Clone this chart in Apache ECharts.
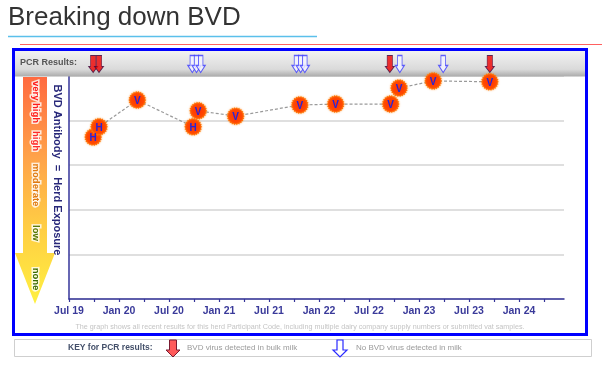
<!DOCTYPE html>
<html>
<head>
<meta charset="utf-8">
<script src="https://cdn.jsdelivr.net/npm/echarts@6/dist/echarts.min.js"></script>
<style>
html,body{margin:0;padding:0;background:#fff;}
#c{width:602px;height:366px;}
</style>
</head>
<body>
<div id="c"></div>
<script>
// ---- data ----
const tickLabels = ['Jul 19','Jan 20','Jul 20','Jan 21','Jul 21','Jan 22','Jul 22','Jan 23','Jul 23','Jan 24'];
// months since Jul 2019
const sampleMonths = [2.9, 3.6, 8.2, 14.9, 15.5, 20.0, 27.7, 32.0, 38.6, 39.6, 43.7, 50.5];
const antibodyLevel = [3.63, 3.86, 4.46, 3.86, 4.22, 4.10, 4.35, 4.37, 4.37, 4.73, 4.89, 4.87];
const sampleCodes = ['H','H','V','H','V','V','V','V','V','V','V','V'];
const pcrMonths = [2.9, 3.6, 14.8, 15.3, 15.8, 27.3, 27.8, 28.3, 38.5, 39.7, 44.9, 50.5];
const pcrDetected = [1, 1, 0, 0, 0, 0, 0, 0, 1, 0, 0, 1];
const levelLabels = ['very high','high','moderate','low','none'];
const xMax = 59.4;

// ---- styles ----
function burstPath(n, r1, r2){
  let p = '';
  for (let i = 0; i < 2*n; i++){
    const r = i % 2 === 0 ? r1 : r2;
    const a = Math.PI * i / n;
    const x = (r*Math.cos(a)).toFixed(2), y = (r*Math.sin(a)).toFixed(2);
    p += (i === 0 ? 'M' : 'L') + x + ',' + y;
  }
  return 'path://' + p + 'Z';
}
const burst = burstPath(22, 10, 8.5);
const arrowRed = 'path://M2,0L8,0L8,11L10,11L5,17L0,11L2,11Z';
const arrowBlue = 'path://M2.5,0L7.5,0L7.5,10L10,10L5,17L0,10L2.5,10Z';
const axisBlue = '#34349a';

const chart = echarts.init(document.getElementById('c'), null, {renderer:'canvas'});

const pts = sampleMonths.map((m,i)=>[m, antibodyLevel[i]]);
const redArrows = [], blueArrows = [];
pcrMonths.forEach((m,i)=>{ (pcrDetected[i] ? redArrows : blueArrows).push([m, 0.5]); });

const levelY = [102, 141, 185, 233, 279];
const levelColors = ['#ff1a1a','#ff2a2a','#e07a10','#557700','#3a6a00'];

const graphics = [
  {type:'text', left:8, top:5, style:{text:'Breaking down BVD', font:'26px "Liberation Sans", Arial, sans-serif', fill:'#333'}},
  {type:'line', shape:{x1:8,y1:36.5,x2:317,y2:36.5}, style:{stroke:'#5bc0eb', lineWidth:1.5}},
  {type:'line', shape:{x1:20,y1:44.5,x2:602,y2:44.5}, style:{stroke:'#ff6060', lineWidth:1}},
  // header strip
  {type:'rect', z:1, shape:{x:15,y:51,width:571,height:25.5},
    style:{fill:new echarts.graphic.LinearGradient(0,0,0,1,[{offset:0,color:'#f2f2f2'},{offset:0.72,color:'#dadada'},{offset:1,color:'#aaaaaa'}])}},
  {type:'text', z:3, x:20, y:63, style:{text:'PCR Results:', font:'bold 9px "Liberation Sans", Arial, sans-serif', fill:'#555', verticalAlign:'middle'}},
  // blue frame
  {type:'rect', z:4, shape:{x:13.5,y:49.5,width:573,height:285}, style:{fill:'none', stroke:'#0000ff', lineWidth:3}},
  // left gradient arrow
  {type:'polygon', z:1, shape:{points:[[23,77],[47,77],[47,253],[55,253],[35,304],[15,253],[23,253]]},
    style:{fill:new echarts.graphic.LinearGradient(0,0,0,1,[{offset:0,color:'#ff6a40'},{offset:0.35,color:'#ffa24a'},{offset:0.65,color:'#ffcc44'},{offset:1,color:'#fff040'}])}},
  {type:'text', z:3, x:57, y:170, rotation:-Math.PI/2,
    style:{text:'BVD Antibody  =  Herd Exposure', font:'bold 11px "Liberation Sans", Arial, sans-serif', fill:'#28287a', align:'center', verticalAlign:'middle'}},
  // footnote
  {type:'text', z:3, x:300, y:327, style:{text:'The graph shows all recent results for this herd Participant Code, including multiple dairy company supply numbers or submitted vat samples.', font:'7.2px "Liberation Sans", Arial, sans-serif', fill:'#c4c4c4', align:'center', verticalAlign:'middle'}},
  // key box
  {type:'rect', z:1, shape:{x:14.5,y:339.5,width:577,height:17}, style:{fill:'#fff', stroke:'#cfcfcf', lineWidth:1}},
  {type:'text', z:3, x:68, y:348, style:{text:'KEY for PCR results:', font:'bold 8.5px "Liberation Sans", Arial, sans-serif', fill:'#44506a', verticalAlign:'middle'}},
  {type:'polygon', z:3, shape:{points:[[169.5,340],[176.5,340],[176.5,350],[180,350],[173,357],[166,350],[169.5,350]]}, style:{fill:'#ff5a5a', stroke:'#7a1a30', lineWidth:1}},
  {type:'text', z:3, x:187, y:348, style:{text:'BVD virus detected in bulk milk', font:'8px "Liberation Sans", Arial, sans-serif', fill:'#9a9a9a', verticalAlign:'middle'}},
  {type:'polygon', z:3, shape:{points:[[337,340],[343,340],[343,350],[347,350],[340,357],[333,350],[337,350]]}, style:{fill:'#fff', stroke:'#2a2aff', lineWidth:1.2}},
  {type:'text', z:3, x:356, y:348, style:{text:'No BVD virus detected in milk', font:'8px "Liberation Sans", Arial, sans-serif', fill:'#9a9a9a', verticalAlign:'middle'}}
];
levelLabels.forEach((t,i)=>{
  graphics.push({type:'text', z:3, x:36, y:levelY[i], rotation:-Math.PI/2,
    style:{text:t, font:'bold 9.5px "Liberation Sans", Arial, sans-serif', fill:levelColors[i], align:'center', verticalAlign:'middle',
      stroke:'rgba(255,255,255,0.8)', lineWidth:3}});
});

chart.setOption({
  animation:false,
  graphic: graphics,
  grid:[
    {left:69, right:38, top:76, bottom:67},
    {left:69, right:38, top:52, height:24}
  ],
  xAxis:[
    {type:'value', gridIndex:0, min:0, max:xMax, interval:3,
      axisLine:{show:true, onZero:false, lineStyle:{color:axisBlue, width:1.5}},
      axisTick:{show:true, length:3, lineStyle:{color:axisBlue, width:1.2}},
      splitLine:{show:false},
      axisLabel:{show:true, showMaxLabel:false, margin:7, color:'#3a3a9a', fontWeight:'bold', fontSize:10.5, fontFamily:'"Liberation Sans", Arial, sans-serif',
        formatter:function(v){ const k = Math.round(v); return (k % 6 === 0 && tickLabels[k/6]) ? tickLabels[k/6] : ''; }}
    },
    {type:'value', gridIndex:1, min:0, max:xMax, show:false}
  ],
  yAxis:[
    {type:'value', gridIndex:0, min:0, max:5, interval:1,
      axisLine:{show:true, lineStyle:{color:axisBlue, width:1.5}},
      axisTick:{show:false}, axisLabel:{show:false},
      splitLine:{show:true, lineStyle:{color:'#d4d4d4', width:1.5}}},
    {type:'value', gridIndex:1, min:0, max:1, show:false}
  ],
  series:[
    {type:'line', xAxisIndex:0, yAxisIndex:0, data:pts, z:5,
      lineStyle:{color:'#9a9a9a', width:1.2, type:[3,2]},
      symbol:burst, symbolSize:18, showAllSymbol:true,
      itemStyle:{color:new echarts.graphic.RadialGradient(0.5,0.5,0.5,[{offset:0,color:'#ff3000'},{offset:0.72,color:'#ff4a00'},{offset:1,color:'#ff8a10'}]),
        shadowBlur:2, shadowColor:'rgba(255,120,0,0.8)'},
      label:{show:true, position:'inside', formatter:function(p){return sampleCodes[p.dataIndex];},
        color:'#2626d8', fontWeight:'bold', fontSize:10, fontFamily:'"Liberation Sans", Arial, sans-serif', offset:[0,1]}
    },
    {type:'scatter', xAxisIndex:1, yAxisIndex:1, data:blueArrows, z:5, clip:false,
      symbol:arrowBlue, symbolSize:[9,17],
      itemStyle:{color:'#f6f6ff', borderColor:'#3838ff', borderWidth:1.1}},
    {type:'scatter', xAxisIndex:1, yAxisIndex:1, data:redArrows, z:6, clip:false,
      symbol:arrowRed, symbolSize:[9,17],
      itemStyle:{color:'#ee0000', borderColor:'#3a0a40', borderWidth:0.8}}
  ]
});
</script>
</body>
</html>
